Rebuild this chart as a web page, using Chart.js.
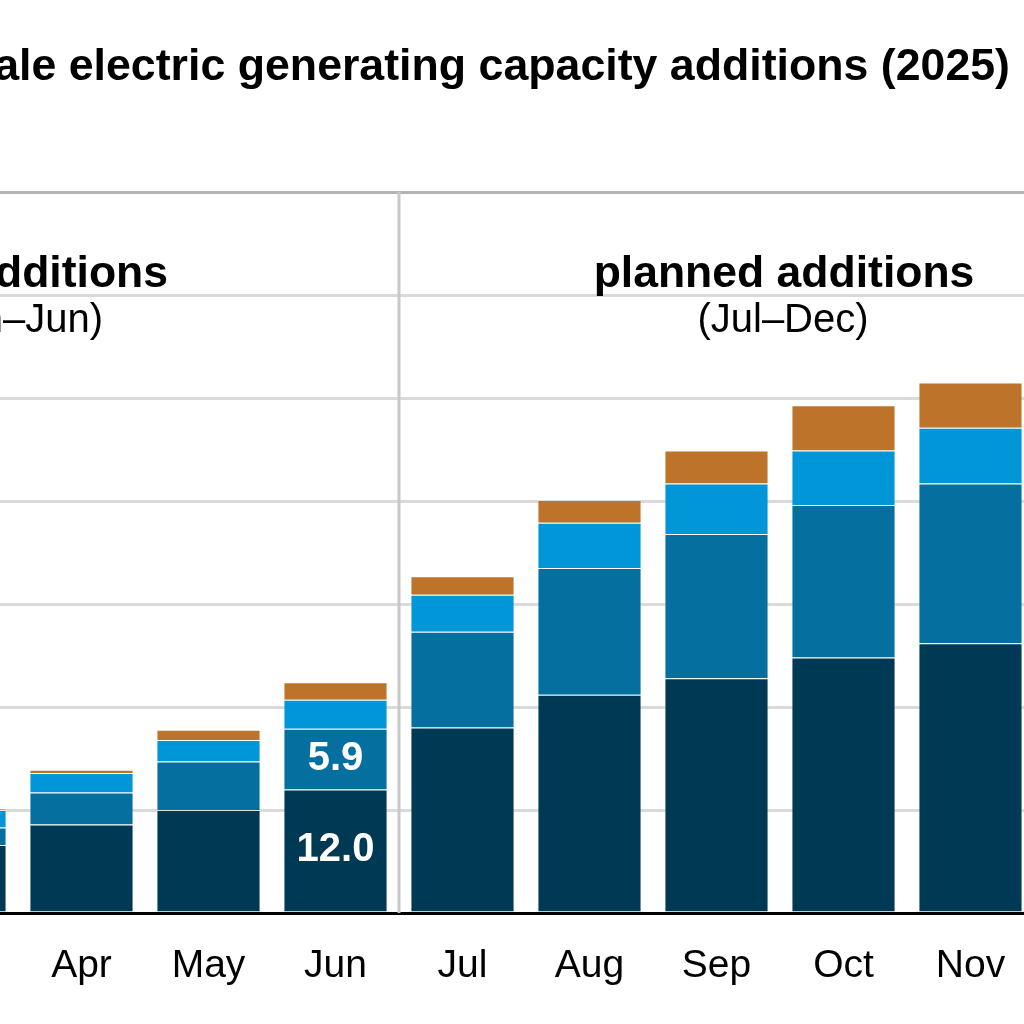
<!DOCTYPE html>
<html>
<head>
<meta charset="utf-8">
<script src="https://cdn.jsdelivr.net/npm/chart.js@4"></script>
<style>
  html, body { margin: 0; padding: 0; background: #fff; }
  #wrap { position: relative; width: 1024px; height: 1024px; overflow: hidden; }
  #chart { position: absolute; left: -363px; top: 0; }
</style>
</head>
<body>
<div id="wrap"><canvas id="chart" width="1544" height="1024"></canvas></div>
<script>
// cumulative capacity additions, GW (Jan, Feb and Dec fall outside the picture)
const months = ['Jan', 'Feb', 'Mar', 'Apr', 'May', 'Jun', 'Jul', 'Aug', 'Sep', 'Oct', 'Nov', 'Dec'];
const solar = [null, null, 6.6, 8.6, 10.0, 12.0, 18.0, 21.2, 22.8, 24.8, 26.2, null];
const battery = [null, null, 1.7, 3.1, 4.7, 5.9, 9.3, 12.3, 14.0, 14.8, 15.5, null];
const wind = [null, null, 1.7, 1.9, 2.1, 2.8, 3.6, 4.4, 4.9, 5.3, 5.4, null];
const gas = [null, null, 0.1, 0.3, 1.0, 1.7, 1.8, 2.2, 3.2, 4.4, 4.4, null];
const yTicks = [0, 10, 20, 30, 40, 50, 60, 70];
const labelled = ['Jun'];

const title = 'U.S. utility-scale electric generating capacity additions (2025)';
const leftHead = 'actual additions';
const leftSub = '(Jan\u2013Jun)';
const rightHead = 'planned additions';
const rightSub = '(Jul\u2013Dec)';

const ctx = document.getElementById('chart');
const shift = 363; // canvas is offset left by this much

const decor = {
    id: 'decor',
    beforeDatasetsDraw(chart) {
        const c = chart.ctx;
        const x = chart.scales.x;
        const mid = (x.getPixelForTick(5) + x.getPixelForTick(6)) / 2;
        c.save();
        c.strokeStyle = '#c8c8c8';
        c.lineWidth = 3;
        c.beginPath();
        c.moveTo(mid, chart.chartArea.top);
        c.lineTo(mid, chart.chartArea.bottom);
        c.stroke();
        c.restore();
    },
    afterDraw(chart) {
        const c = chart.ctx;
        c.save();
        c.fillStyle = '#000';
        c.textBaseline = 'alphabetic';

        c.font = 'bold 44.7px "Liberation Sans", Arial, sans-serif';
        c.textAlign = 'right';
        c.fillText(title, 1010 + shift, 80);

        c.font = 'bold 44.5px "Liberation Sans", Arial, sans-serif';
        c.fillText(leftHead, 168 + shift, 287);
        c.textAlign = 'center';
        c.fillText(rightHead, 784 + shift, 287);

        c.font = '40px "Liberation Sans", Arial, sans-serif';
        c.textAlign = 'right';
        c.fillText(leftSub, 103 + shift, 332);
        c.textAlign = 'center';
        c.fillText(rightSub, 783 + shift, 332);

        // value labels
        c.font = 'bold 40px "Liberation Sans", Arial, sans-serif';
        c.fillStyle = '#fff';
        c.textBaseline = 'middle';
        for (const m of labelled) {
            const i = months.indexOf(m);
            [0, 1].forEach(function (d) {
                const bar = chart.getDatasetMeta(d).data[i];
                const v = chart.data.datasets[d].data[i];
                c.fillText(v.toFixed(1), bar.x, (bar.y + bar.base) / 2);
            });
        }
        c.restore();
    }
};

new Chart(ctx, {
    type: 'bar',
    data: {
        labels: months,
        datasets: [
            { label: 'solar', data: solar, backgroundColor: '#003953' },
            { label: 'battery storage', data: battery, backgroundColor: '#05709f' },
            { label: 'wind', data: wind, backgroundColor: '#0096d7' },
            { label: 'natural gas', data: gas, backgroundColor: '#bd732a' }
        ]
    },
    options: {
        responsive: false,
        animation: false,
        devicePixelRatio: 1,
        layout: { padding: { top: 192, right: 20, left: 0, bottom: 0 } },
        datasets: {
            bar: {
                barPercentage: 0.82,
                categoryPercentage: 1,
                borderWidth: 1,
                borderColor: 'rgba(255,255,255,0.15)'
            }
        },
        plugins: {
            legend: { display: false },
            tooltip: { enabled: false }
        },
        scales: {
            x: {
                stacked: true,
                grid: { display: false, drawTicks: false },
                border: { display: true, color: '#000', width: 3 },
                ticks: {
                    color: '#000',
                    padding: 30,
                    font: { family: '"Liberation Sans", Arial, sans-serif', size: 39 }
                },
                afterFit(scale) { scale.height = 111; }
            },
            y: {
                stacked: true,
                min: 0,
                max: 70,
                afterBuildTicks(scale) { scale.ticks = yTicks.map(v => ({ value: v })); },
                ticks: { display: false },
                border: { display: false },
                grid: {
                    drawTicks: false,
                    lineWidth: 3,
                    color: function (c) {
                        if (c.tick.value === 0) return '#000';
                        if (c.tick.value === 70) return '#b4b4b4';
                        return '#dadada';
                    }
                },
                afterFit(scale) { scale.width = 0; }
            }
        }
    },
    plugins: [decor]
});
</script>
</body>
</html>
